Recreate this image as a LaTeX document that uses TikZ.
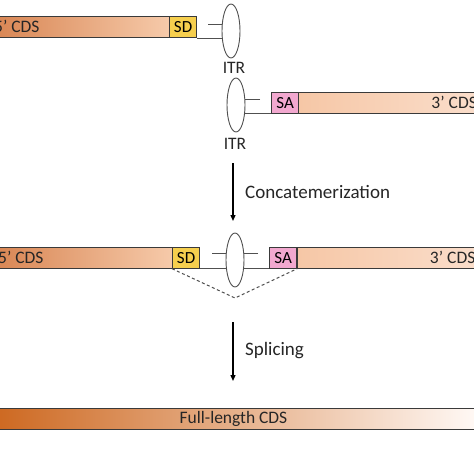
\documentclass[tikz,border=0pt]{standalone}
\usepackage{fontspec}
\setmainfont{Carlito}
\usetikzlibrary{shapes.geometric,arrows.meta}
\definecolor{edge}{HTML}{3A3A3A}
\definecolor{hpcol}{HTML}{505050}
\definecolor{sdfill}{HTML}{F6CF4E}
\definecolor{safill}{HTML}{F2A8CF}
\definecolor{cdsL}{HTML}{D6804C}
\definecolor{cdsR}{HTML}{F6CAAA}
\definecolor{tdsL}{HTML}{F6C7A6}
\definecolor{tdsR}{HTML}{FBE0CF}
\definecolor{fullL}{HTML}{CD6820}
\definecolor{fullR}{HTML}{FFF8F4}
\tikzset{
  barbox/.style={draw=edge, line width=1.2pt, rectangle, inner sep=0pt, minimum height=21pt, anchor=north west},
  sdbox/.style={barbox, fill=sdfill, minimum width=27pt, font=\fontsize{17}{19}\selectfont},
  sabox/.style={barbox, fill=safill, minimum width=27pt, font=\fontsize{17}{19}\selectfont},
  itr/.style={draw=hpcol, line width=0.9pt, ellipse, inner sep=0pt, minimum width=18pt, minimum height=54pt},
  hp/.style={draw=hpcol, line width=0.9pt},
  lbl/.style={inner sep=0pt, font=\fontsize{17.5}{19}\selectfont, text=black!85},
  steplbl/.style={inner sep=0pt, anchor=west, font=\fontsize{19}{21}\selectfont, text=black!85},
  flow/.style={line width=1.3pt, -{Triangle[length=6pt,width=5pt]}},
  dsh/.style={draw=edge!90, line width=1pt, dash pattern=on 3pt off 2.5pt}
}
\begin{document}
\begin{tikzpicture}[x=1pt,y=-1pt]
\useasboundingbox (0,0) rectangle (474,474);
\fill[white] (0,0) rectangle (474,474);
\clip (0,0) rectangle (474,474);
% ---- row 1 : 5' half ----
\node[barbox, minimum width=190pt, left color=cdsL, right color=cdsR] (cds5a) at (-21,16) {};
\node[lbl, anchor=west] (t5a) at (-6,26.5) {5’ CDS};
\node[sdbox] (sd1) at (169,16) {SD};
\node[itr] (itr1) at (231,31) {};
\coordinate (stub1) at (208,24);
\draw[hp] (sd1.south east) -- (sd1.south east -| itr1.west);
\draw[hp] (stub1) -- (stub1 -| itr1.west);
\node[lbl] (itrl1) at (234,67.5) {ITR};
% ---- row 2 : 3' half ----
\node[itr] (itr2) at (236,105) {};
\node[sabox] (sa1) at (271,91.5) {SA};
\node[barbox, minimum width=200pt, left color=tdsL, right color=tdsR] (cds3a) at (298,91.5) {};
\node[lbl, anchor=east] (t3a) at (477,102) {3’ CDS};
\coordinate (stub2) at (260,99);
\draw[hp] (sa1.south west) -- (sa1.south west -| itr2.east);
\draw[hp] (stub2) -- (stub2 -| itr2.east);
\node[lbl] (itrl2) at (235,143.5) {ITR};
% ---- arrow 1 ----
\coordinate (a1s) at (233,163);
\coordinate (a1e) at (233,221);
\draw[flow] (a1s) -- (a1e);
\node[steplbl] (conc) at (245,192) {Concatemerization};
% ---- row 3 : concatemer ----
\node[barbox, minimum width=193pt, left color=cdsL, right color=cdsR] (cds5b) at (-21,246.5) {};
\node[lbl, anchor=west] (t5b) at (-2,257) {5’ CDS};
\node[sdbox] (sd2) at (172,246.5) {SD};
\node[itr] (itr3) at (235,260) {};
\node[sabox] (sa2) at (269,246.5) {SA};
\node[barbox, minimum width=200pt, left color=tdsL, right color=tdsR] (cds3b) at (297,246.5) {};
\node[lbl, anchor=east] (t3b) at (475.5,257) {3’ CDS};
\coordinate (stubL) at (212,253);
\coordinate (stubR) at (258,253);
\draw[hp] (stubL) -- (stubL -| itr3.west);
\draw[hp] (stubR) -- (stubR -| itr3.east);
\draw[hp] (sd2.south east) -- (sd2.south east -| itr3.west);
\draw[hp] (sa2.south west) -- (sa2.south west -| itr3.east);
\coordinate (dip) at (235,298);
\draw[dsh] (sd2.south west) -- (dip) -- (sa2.south east);
% ---- arrow 2 ----
\coordinate (a2s) at (233,322);
\coordinate (a2e) at (233,381);
\draw[flow] (a2s) -- (a2e);
\node[steplbl] (spl) at (245,351) {Splicing};
% ---- full-length ----
\node[barbox, minimum width=480pt, left color=fullL, right color=fullR] (full) at (-6.5,408) {};
\node[lbl] (tfull) at (233.5,418.5) {Full-length CDS};
\end{tikzpicture}
\end{document}
